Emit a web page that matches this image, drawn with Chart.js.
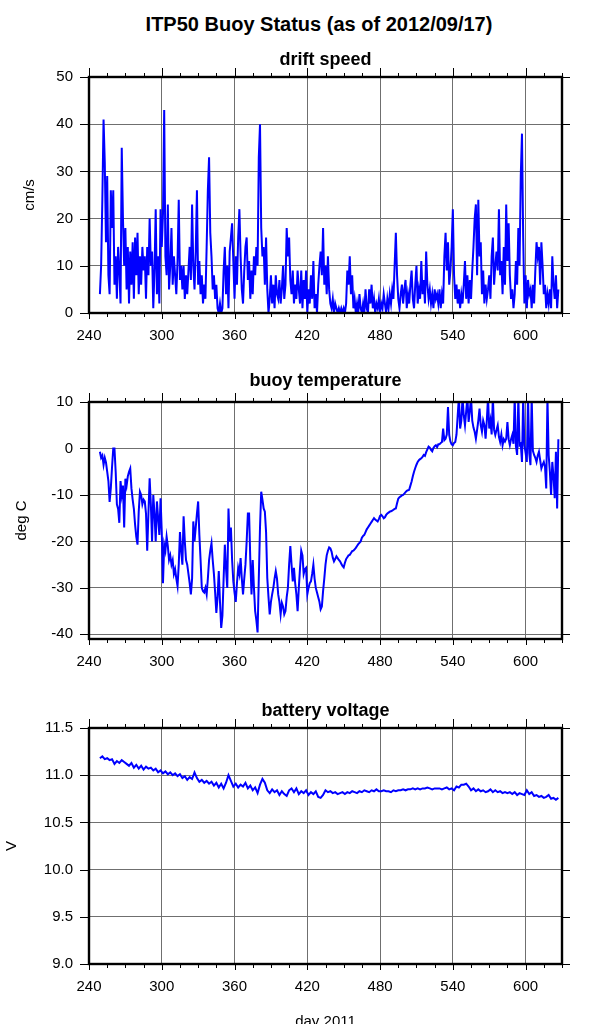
<!DOCTYPE html>
<html><head><meta charset="utf-8">
<script src="https://cdn.jsdelivr.net/npm/chart.js@4/dist/chart.umd.min.js"></script>
<style>
html,body{margin:0;padding:0;background:#fff;}
body{width:592px;height:1024px;position:relative;overflow:hidden;font-family:'Liberation Sans',Arial,Helvetica,sans-serif;}
canvas{position:absolute;left:0;}
.t{position:absolute;text-align:center;font-weight:bold;color:#000;white-space:nowrap;z-index:2;}
.p{left:89px;width:473px;font-size:18px;line-height:22px;}
</style></head><body>
<div class="t" style="left:0;width:638px;top:12px;font-size:20px;line-height:24px;">ITP50 Buoy Status (as of 2012/09/17)</div>
<div class="t p" style="top:48px;">drift speed</div>
<div class="t p" style="top:369px;">buoy temperature</div>
<div class="t p" style="top:699px;">battery voltage</div>
<div class="t p" style="top:1012px;font-size:15px;line-height:18px;font-weight:normal;">day 2011</div>
<canvas id="c1" width="592" height="325" style="top:40px"></canvas>
<canvas id="c2" width="592" height="320" style="top:370px"></canvas>
<canvas id="c3" width="592" height="324" style="top:700px"></canvas>
<script>
const driftStart = 249, driftStep = 1;
const driftSpeed = [
4,10,24,41,32,15,29,8,4,26,
18,26,6,12,3,14,9,2,35,20,
10,18,5,14,2,13,6,15,3,16,
8,17,4,12,6,14,9,12,3,14,
8,20,10,13,1,9,22,4,12,2,
22,14,21,43,12,8,23,5,10,18,
6,12,8,4,11,24,7,10,5,10,
3,8,4,9,14,7,23,10,5,13,
26,6,11,4,8,2,6,3,14,26,
33,17,12,5,8,3,6,1,0,2,
0,1,9,14,4,10,1,13,16,19,
11,3,12,6,16,22,12,5,2,9,
14,16,7,11,3,9,4,12,8,14,
10,33,40,18,12,14,6,16,5,0,
3,8,2,6,1,8,4,3,7,2,
5,10,3,6,18,12,16,7,4,9,
2,6,3,9,5,2,9,1,7,3,
9,0,5,2,8,3,11,1,4,0,
6,10,13,8,18,6,10,4,12,5,
2,1,3,0,2,1,0,1,0,1,
0,1,0,2,9,6,12,4,8,1,
3,0,2,0,4,1,0,2,0,5,
1,0,5,2,6,1,3,0,2,1,
3,0,2,1,4,2,0,3,1,4,
2,5,3,10,17,8,3,1,4,6,
2,5,7,1,4,2,6,9,3,1,
6,10,2,5,3,11,4,7,2,13,
6,3,5,2,4,1,5,3,4,2,
5,1,4,2,12,17,9,15,6,9,
14,22,8,3,6,2,5,1,4,2,
6,11,3,8,2,7,3,9,14,20,
23,8,24,12,15,4,9,2,6,3,
5,8,3,12,16,6,10,13,9,22,
8,11,4,14,6,23,11,19,8,3,
5,1,4,11,6,18,10,29,38,16,
2,8,1,7,4,5,1,6,2,9,
15,12,14,6,15,10,4,6,1,4,
2,5,1,12,6,3,8,1,5
];
const tempStart = 249, tempStep = 1;
const buoyTemp = [
-0.7,-2,-1.5,-3.5,-2,-3,-5,-7,-11.5,-8.5,
-4,0,0,-5,-12,-13,-16,-7,-10,-8,
-17,-6.5,-8,-6,-5,-4.3,-8.6,-11,-13,-16.4,
-19,-20.7,-13.6,-9.3,-10,-12,-11,-11.4,-14,-22,
-14,-6.4,-12,-20,-10,-14,-20,-11.4,-15,-18.6,
-10.7,-18,-29,-20.7,-22,-19,-21,-24,-23,-25,
-24,-27,-26,-28,-29.6,-25,-18,-22,-25,-14.6,
-20,-24,-25,-27,-29,-31.4,-28,-15.7,-20,-17,
-14,-11.4,-18.6,-24,-30,-30.7,-31,-30,-31.4,-28,
-24,-22,-20.4,-24,-27,-31,-35.4,-32,-26.4,-33,
-38.6,-36,-28,-20.7,-26,-30,-12.9,-20,-17,-24,
-28.6,-31,-33,-29,-25.7,-27,-23.6,-28,-31.4,-28,
-25,-20,-14,-14,-24,-31.4,-24,-30,-35,-37,
-39.6,-28,-17,-9.3,-11,-12.9,-13.6,-18,-27.9,-32,
-35.7,-33,-31.4,-30,-28,-26.4,-28,-31.4,-33,-35.7,
-33.2,-34,-35.7,-35,-32,-30,-25,-21,-25,-28.6,
-25.7,-29,-31.4,-35,-30,-25.7,-22,-23,-27,-26,
-25.7,-31.4,-30,-29,-28.6,-27,-25,-28,-30,-31,
-32,-33,-34.6,-34,-30.7,-28,-25,-23,-22,-21.3,
-21.5,-22.2,-23.5,-24.3,-23.8,-23.2,-23.6,-24,-24.3,-24.8,
-25.3,-25.6,-24.6,-23.8,-23.4,-23,-22.9,-22.5,-22.1,-22,
-21.7,-21.4,-21,-20.6,-20.3,-20,-19.2,-18.8,-18.6,-18,
-17.4,-17,-16.6,-16.2,-15.8,-15.4,-15,-15.3,-15.5,-15.7,
-15.2,-14.5,-14.3,-14.6,-15,-14.8,-14.3,-14,-13.8,-13.6,
-13.5,-13.4,-13.2,-13,-12.9,-11.8,-10.8,-10.5,-10.3,-10.1,
-10,-9.7,-9.4,-9.1,-9,-8.9,-8,-7.1,-6,-5,
-4.2,-3.5,-2.9,-2.5,-2.3,-2.1,-1.8,-1.4,-1.6,-0.8,
-0.2,0.4,0.2,-0.3,-0.6,0.1,0.5,0.7,0.3,0.9,
0.9,1.2,1.4,4.3,1.8,2.1,3,8.9,2.9,1.5,
0.9,0.7,1.2,1.4,3,7.1,11,4.3,6,11,
7.1,5,8,11,5.7,8,11,6,4.5,3.6,
2.1,4,6,8.6,5,3.6,6,5,2.1,6,
11,4.3,6,3,11,4,2.9,4,5,2.5,
1.4,3,0.7,2,1.5,2.1,5.7,2,0.7,2,
2.9,1,11,0.5,-1.4,11,0.7,1,-2.9,11,
0.7,-1,-2.9,11,-1,-3.6,11,-0.5,-1.4,-2,
-2.9,-1.5,-0.7,-2.5,-4.3,-3.5,-2.9,-4,-8.6,11,
-1.4,-5,-10,-2.9,-6,-10.7,-0.7,-12.9,2
];
const voltStart = 249, voltStep = 2;
const batteryVolt = [
11.18,11.20,11.17,11.18,11.16,11.17,11.12,11.15,11.13,11.16,
11.14,11.12,11.10,11.13,11.08,11.11,11.07,11.10,11.06,11.09,
11.07,11.08,11.05,11.07,11.03,11.05,11.02,11.04,11.01,11.03,
11.00,11.02,10.99,11.01,10.97,10.99,10.95,10.98,10.96,11.03,
10.97,10.93,10.95,10.92,10.94,10.91,10.93,10.89,10.92,10.87,
10.91,10.86,10.92,11.00,10.94,10.88,10.91,10.87,10.90,10.88,
10.92,10.86,10.89,10.84,10.87,10.81,10.90,10.96,10.92,10.84,
10.81,10.85,10.82,10.84,10.79,10.83,10.80,10.78,10.84,10.86,
10.82,10.86,10.80,10.83,10.81,10.84,10.79,10.82,10.80,10.83,
10.77,10.76,10.79,10.84,10.82,10.83,10.81,10.82,10.80,10.81,
10.82,10.80,10.82,10.81,10.83,10.82,10.81,10.83,10.82,10.84,
10.83,10.82,10.84,10.83,10.85,10.83,10.83,10.84,10.83,10.83,
10.82,10.84,10.83,10.84,10.84,10.85,10.84,10.85,10.85,10.86,
10.85,10.86,10.85,10.86,10.86,10.87,10.86,10.85,10.86,10.86,
10.86,10.85,10.86,10.87,10.85,10.86,10.84,10.88,10.87,10.90,
10.90,10.91,10.88,10.84,10.86,10.83,10.85,10.83,10.84,10.82,
10.83,10.85,10.82,10.84,10.82,10.83,10.81,10.82,10.81,10.82,
10.80,10.82,10.79,10.81,10.80,10.79,10.84,10.80,10.82,10.78,
10.79,10.77,10.78,10.76,10.77,10.79,10.75,10.76,10.74,10.76
];
const xTicks = [240,300,360,420,480,540,600];
const speedTicks = [0,10,20,30,40,50];
const tempTicks = [-40,-30,-20,-10,0,10];
const voltTicks = [9.0,9.5,10.0,10.5,11.0,11.5];
const xMin = 240, xMax = 630, xMinorStep = 15, xMajorStep = 60;

Chart.defaults.font.family = "'Liberation Sans', Arial, Helvetica, sans-serif";
Chart.defaults.font.size = 15;
Chart.defaults.color = '#000';

const frameTicks = {
  id: 'frameTicks',
  afterDraw(chart) {
    const {ctx, chartArea: a, scales: {x, y}} = chart;
    ctx.save();
    ctx.strokeStyle = '#000';
    ctx.lineWidth = 1;
    ctx.beginPath();
    for (let v = xMin; v <= xMax; v += xMinorStep) {
      const px = Math.round(x.getPixelForValue(v)) + 0.5;
      const major = v % xMajorStep === 0;
      ctx.moveTo(px, a.top); ctx.lineTo(px, a.top - (major ? 9 : 4));
      ctx.moveTo(px, a.bottom); ctx.lineTo(px, a.bottom + (major ? 6 : 4));
    }
    y.ticks.forEach(t => {
      const py = Math.round(y.getPixelForValue(t.value)) + 0.5;
      ctx.moveTo(a.left - 9, py); ctx.lineTo(a.left, py);
      ctx.moveTo(a.right, py); ctx.lineTo(a.right + 8, py);
    });
    ctx.stroke();
    ctx.lineWidth = 2.4;
    ctx.strokeRect(a.left, a.top, a.right - a.left, a.bottom - a.top);
    ctx.restore();
  }
};

function makeChart(id, start, step, vals, yMin, yMax, yTicks, yTitle, titlePad, padTop, xAxisH, fmt) {
  const pts = vals.map((v, i) => ({x: start + i * step, y: v}));
  return new Chart(document.getElementById(id), {
    type: 'line',
    data: {datasets: [{data: pts, borderColor: '#0000ff', borderWidth: 2, pointRadius: 0, tension: 0, fill: false}]},
    options: {
      responsive: false, animation: false, events: [],
      layout: {padding: {top: padTop, right: 30, left: 0, bottom: 0}},
      plugins: {legend: {display: false}, tooltip: {enabled: false}, title: {display: false}},
      scales: {
        x: {
          type: 'linear', min: xMin, max: xMax,
          afterBuildTicks: s => { s.ticks = xTicks.map(v => ({value: v})); },
          afterFit: s => { s.height = xAxisH; },
          grid: {color: '#6f6f6f', lineWidth: 1, drawTicks: false},
          border: {display: false},
          ticks: {padding: 14, autoSkip: false, maxRotation: 0, minRotation: 0, callback: v => String(v)}
        },
        y: {
          type: 'linear', min: yMin, max: yMax,
          afterBuildTicks: s => { s.ticks = yTicks.map(v => ({value: v})); },
          afterFit: s => { s.width = 89; },
          grid: {color: '#6f6f6f', lineWidth: 1, drawTicks: false},
          border: {display: false},
          ticks: {padding: 16, callback: fmt},
          title: {display: true, text: yTitle, font: {size: 15}, padding: {top: titlePad, bottom: 0}}
        }
      }
    },
    plugins: [frameTicks]
  });
}

makeChart('c1', driftStart, driftStep, driftSpeed, 0, 50, speedTicks, 'cm/s', 21, 37, 52, v => String(v));
makeChart('c2', tempStart, tempStep, buoyTemp, -41, 10, tempTicks, 'deg C', 13, 32, 51, v => String(v));
makeChart('c3', voltStart, voltStep, batteryVolt, 9, 11.5, voltTicks, 'V', 3, 28, 60, v => Number(v).toFixed(1));
</script>
</body></html>
